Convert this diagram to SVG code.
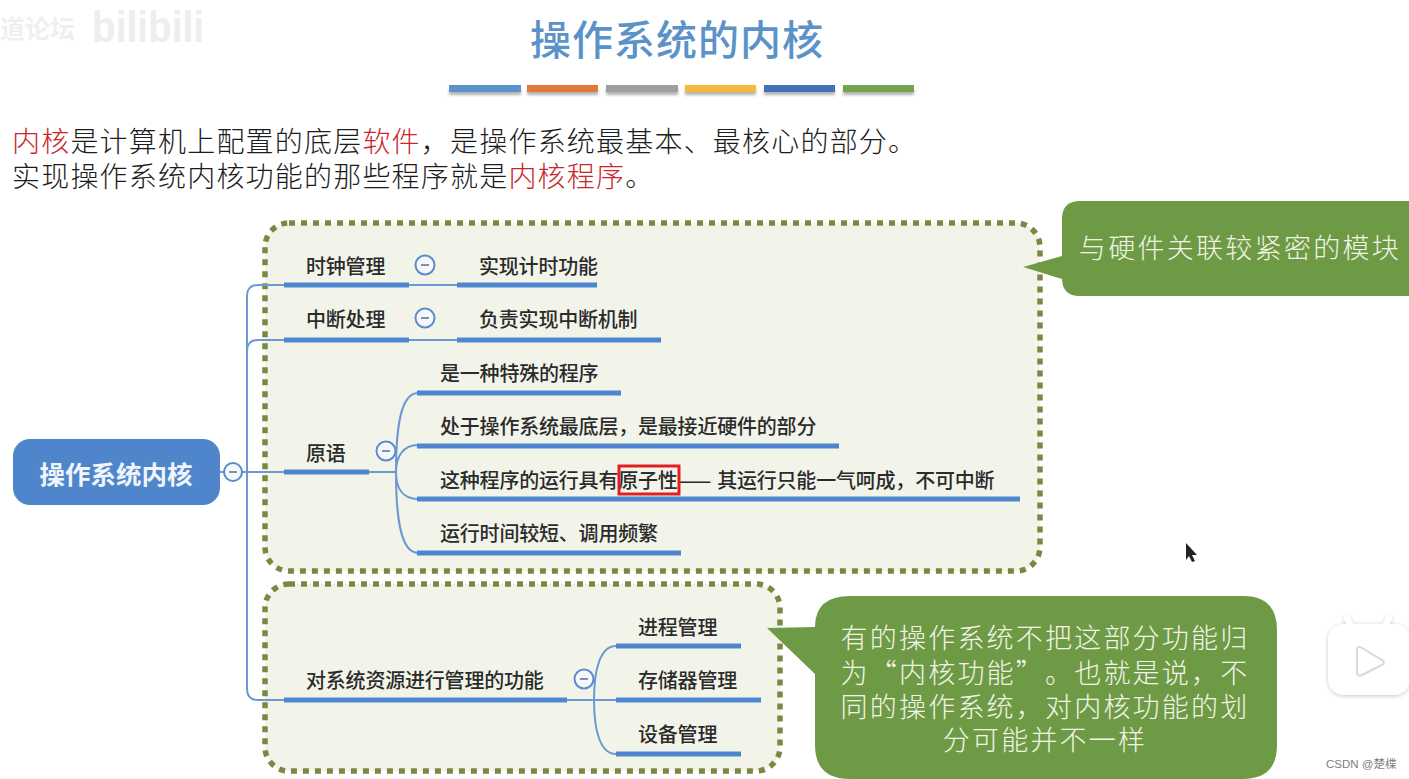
<svg xmlns="http://www.w3.org/2000/svg" width="1409" height="779" viewBox="0 0 1409 779">
<defs>
<filter id="soft" x="-30%" y="-60%" width="160%" height="220%"><feGaussianBlur stdDeviation="1.800"/></filter>
<filter id="badge" x="-20%" y="-20%" width="140%" height="140%"><feDropShadow dx="0" dy="1" stdDeviation="2" flood-color="#000" flood-opacity=".22"/></filter>
</defs>
<style>
text{font-family:"Noto Sans CJK SC","Noto Sans",sans-serif;text-spacing-trim:space-all}
.body{font-size:28px;fill:#1c1c1c;font-weight:300;letter-spacing:1.200px}
.red{fill:#c9272c}
.lab{font-size:20px;fill:#2b2b2b;font-weight:500;letter-spacing:-.2px}
.call{font-size:27px;fill:#f1f5e8;font-weight:300;text-anchor:middle;letter-spacing:2.200px}
.box{fill:#f2f4ea;stroke:#7b8840;stroke-width:5.500;stroke-dasharray:6 6}
.ul{stroke:#4d85cf;stroke-width:5;fill:none}
.thin{stroke:#6d98d2;stroke-width:2;fill:none}
.tog{fill:#f5f8fb;stroke:#5b8bcb;stroke-width:2}
.tm{stroke:#7f8fae;stroke-width:2}
.green{fill:#6f9a45}
</style>
<rect width="1409" height="779" fill="#fff"/>
<g id="watermark" font-weight="700">
<text x="0" y="38" font-size="25" style="fill:#efefef">道论坛</text>
<text x="92" y="42" font-size="44" style="fill:#eeeeee;font-family:'Liberation Sans',sans-serif" textLength="112" lengthAdjust="spacingAndGlyphs">bilibili</text>
</g>
<text id="title" x="677" y="55" text-anchor="middle" font-size="41" fill="#5b93c9" font-weight="500" letter-spacing="1">操作系统的内核</text>
<g id="title-bars">
<g filter="url(#soft)" fill="#000" opacity=".3"><rect x="449" y="89" width="72" height="6"/><rect x="527" y="89" width="71" height="6"/><rect x="606" y="89" width="72" height="6"/><rect x="685" y="89" width="71" height="6"/><rect x="764" y="89" width="71" height="6"/><rect x="843" y="89" width="71" height="6"/></g>
<rect x="449" y="85" width="72" height="7" fill="#5b94cd"/>
<rect x="527" y="85" width="71" height="7" fill="#e2793a"/>
<rect x="606" y="85" width="72" height="7" fill="#9e9e9e"/>
<rect x="685" y="85" width="71" height="7" fill="#f6b93b"/>
<rect x="764" y="85" width="71" height="7" fill="#4470b8"/>
<rect x="843" y="85" width="71" height="7" fill="#73a44c"/>
</g>
<text id="intro-1" class="body" x="12" y="152"><tspan class="red">内核</tspan>是计算机上配置的底层<tspan class="red">软件</tspan>，是操作系统最基本、最核心的部分。</text>
<text id="intro-2" class="body" x="12" y="187">实现操作系统内核功能的那些程序就是<tspan class="red">内核程序</tspan>。</text>

<g id="group-box-1"><rect class="box" x="265" y="223" width="775" height="348" rx="24"/></g>
<g id="group-box-2"><rect class="box" x="265" y="584" width="515" height="187" rx="24"/></g>

<g id="connectors">
<path class="thin" d="M220 472H284"/>
<path class="thin" d="M284 285H258Q247 285 247 296V689Q247 700 258 700H284"/>
<path class="thin" d="M284 340H258Q247 340 247 351"/>
<path class="thin" d="M409 285H457M409 340H457"/>
<path class="thin" d="M369 472H396"/>
<path class="thin" d="M396 472C396 430 400 393 418 393M396 472C396 458 402 445 418 445M396 472C396 487 402 499 418 499M396 472C396 515 400 553 418 553"/>
<path class="thin" d="M567 700H594"/>
<path class="thin" d="M594 700C594 670 600 646 616 646M594 700H616M594 700C594 730 600 754 616 754"/>
<path class="ul" d="M284 285H409M457 285H597M284 340H409M457 340H661M284 472H369M417 393H621M417 446H839M417 499H1020M417 553H681M284 700H567M616 646H741M616 700H761M616 754H741"/>
</g>

<g id="root"><rect x="13" y="439" width="207" height="66" rx="17" fill="#4f86cb"/><text x="116" y="484" text-anchor="middle" font-size="25.500" font-weight="700" fill="#f0f5fb">操作系统内核</text></g>
<g id="root-toggle"><circle class="tog" cx="233" cy="472" r="9"/><path class="tm" d="M229 472h8"/></g>
<g id="n-clock"><text class="lab" x="306" y="274">时钟管理</text></g>
<g id="n-clock-t"><circle class="tog" cx="425" cy="265" r="9.500"/><path class="tm" d="M421 265h8"/></g>
<g id="n-clock-c"><text class="lab" x="479" y="274">实现计时功能</text></g>
<g id="n-int"><text class="lab" x="306" y="327">中断处理</text></g>
<g id="n-int-t"><circle class="tog" cx="425" cy="318" r="9.500"/><path class="tm" d="M421 318h8"/></g>
<g id="n-int-c"><text class="lab" x="479" y="327">负责实现中断机制</text></g>
<g id="n-prim"><text class="lab" x="306" y="461">原语</text></g>
<g id="n-prim-t"><circle class="tog" cx="386" cy="451" r="9.500"/><path class="tm" d="M382 451h8"/></g>
<g id="n-p1"><text class="lab" x="440" y="381">是一种特殊的程序</text></g>
<g id="n-p2"><text class="lab" x="440" y="434">处于操作系统最底层，是最接近硬件的部分</text></g>
<g id="n-p3"><text class="lab" x="440" y="488">这种程序的运行具有原子性——<tspan dx="6">其运行只能一气呵成，不可中断</tspan></text><rect x="619" y="466" width="60" height="28" fill="none" stroke="#e02020" stroke-width="3"/></g>
<g id="n-p4"><text class="lab" x="440" y="541">运行时间较短、调用频繁</text></g>
<g id="n-res"><text class="lab" x="306" y="688">对系统资源进行管理的功能</text></g>
<g id="n-res-t"><circle class="tog" cx="584" cy="679" r="9.500"/><path class="tm" d="M580 679h8"/></g>
<g id="n-r1"><text class="lab" x="638" y="635">进程管理</text></g>
<g id="n-r2"><text class="lab" x="638" y="688">存储器管理</text></g>
<g id="n-r3"><text class="lab" x="638" y="742">设备管理</text></g>

<g id="callout-1"><path class="green" d="M1080 201H1409V296H1080Q1062 296 1062 278V279L1023 267L1062 256V219Q1062 201 1080 201Z"/><text class="call" x="1240" y="258" style="letter-spacing:2.300px">与硬件关联较紧密的模块</text></g>
<g id="callout-2"><path class="green" d="M850 596H1243Q1277 596 1277 630V745Q1277 779 1243 779H850Q815 779 815 745V674L767 628L815 627Q815 596 850 596Z"/>
<text class="call" x="1045" y="648">有的操作系统不把这部分功能归</text>
<text class="call" x="1045" y="683">为“内核功能”。也就是说，不</text>
<text class="call" x="1045" y="717">同的操作系统，对内核功能的划</text>
<text class="call" x="1045" y="750">分可能并不一样</text></g>

<g id="cursor"><path d="M1186 543L1197 555H1192L1195 561L1192 562L1189 556L1186 560Z" fill="#222"/></g>
<g id="play-badge" filter="url(#badge)">
<path d="M1354 632L1347 618M1382 632L1389 618" stroke="#fff" stroke-width="6" stroke-linecap="round"/>
<rect x="1328" y="624" width="82" height="71" rx="16" fill="#fff"/>
<path d="M1357 650Q1357 645 1362 648L1382 660Q1386 662 1382 665L1362 675Q1357 677 1357 672Z" fill="#fff" stroke="#d8d8d8" stroke-width="2"/>
</g>
<text id="credit" x="1326" y="768" font-size="11.500" fill="#7d7d7d" style="font-family:'Liberation Sans','Noto Sans CJK SC',sans-serif">CSDN @楚楪</text>
</svg>
